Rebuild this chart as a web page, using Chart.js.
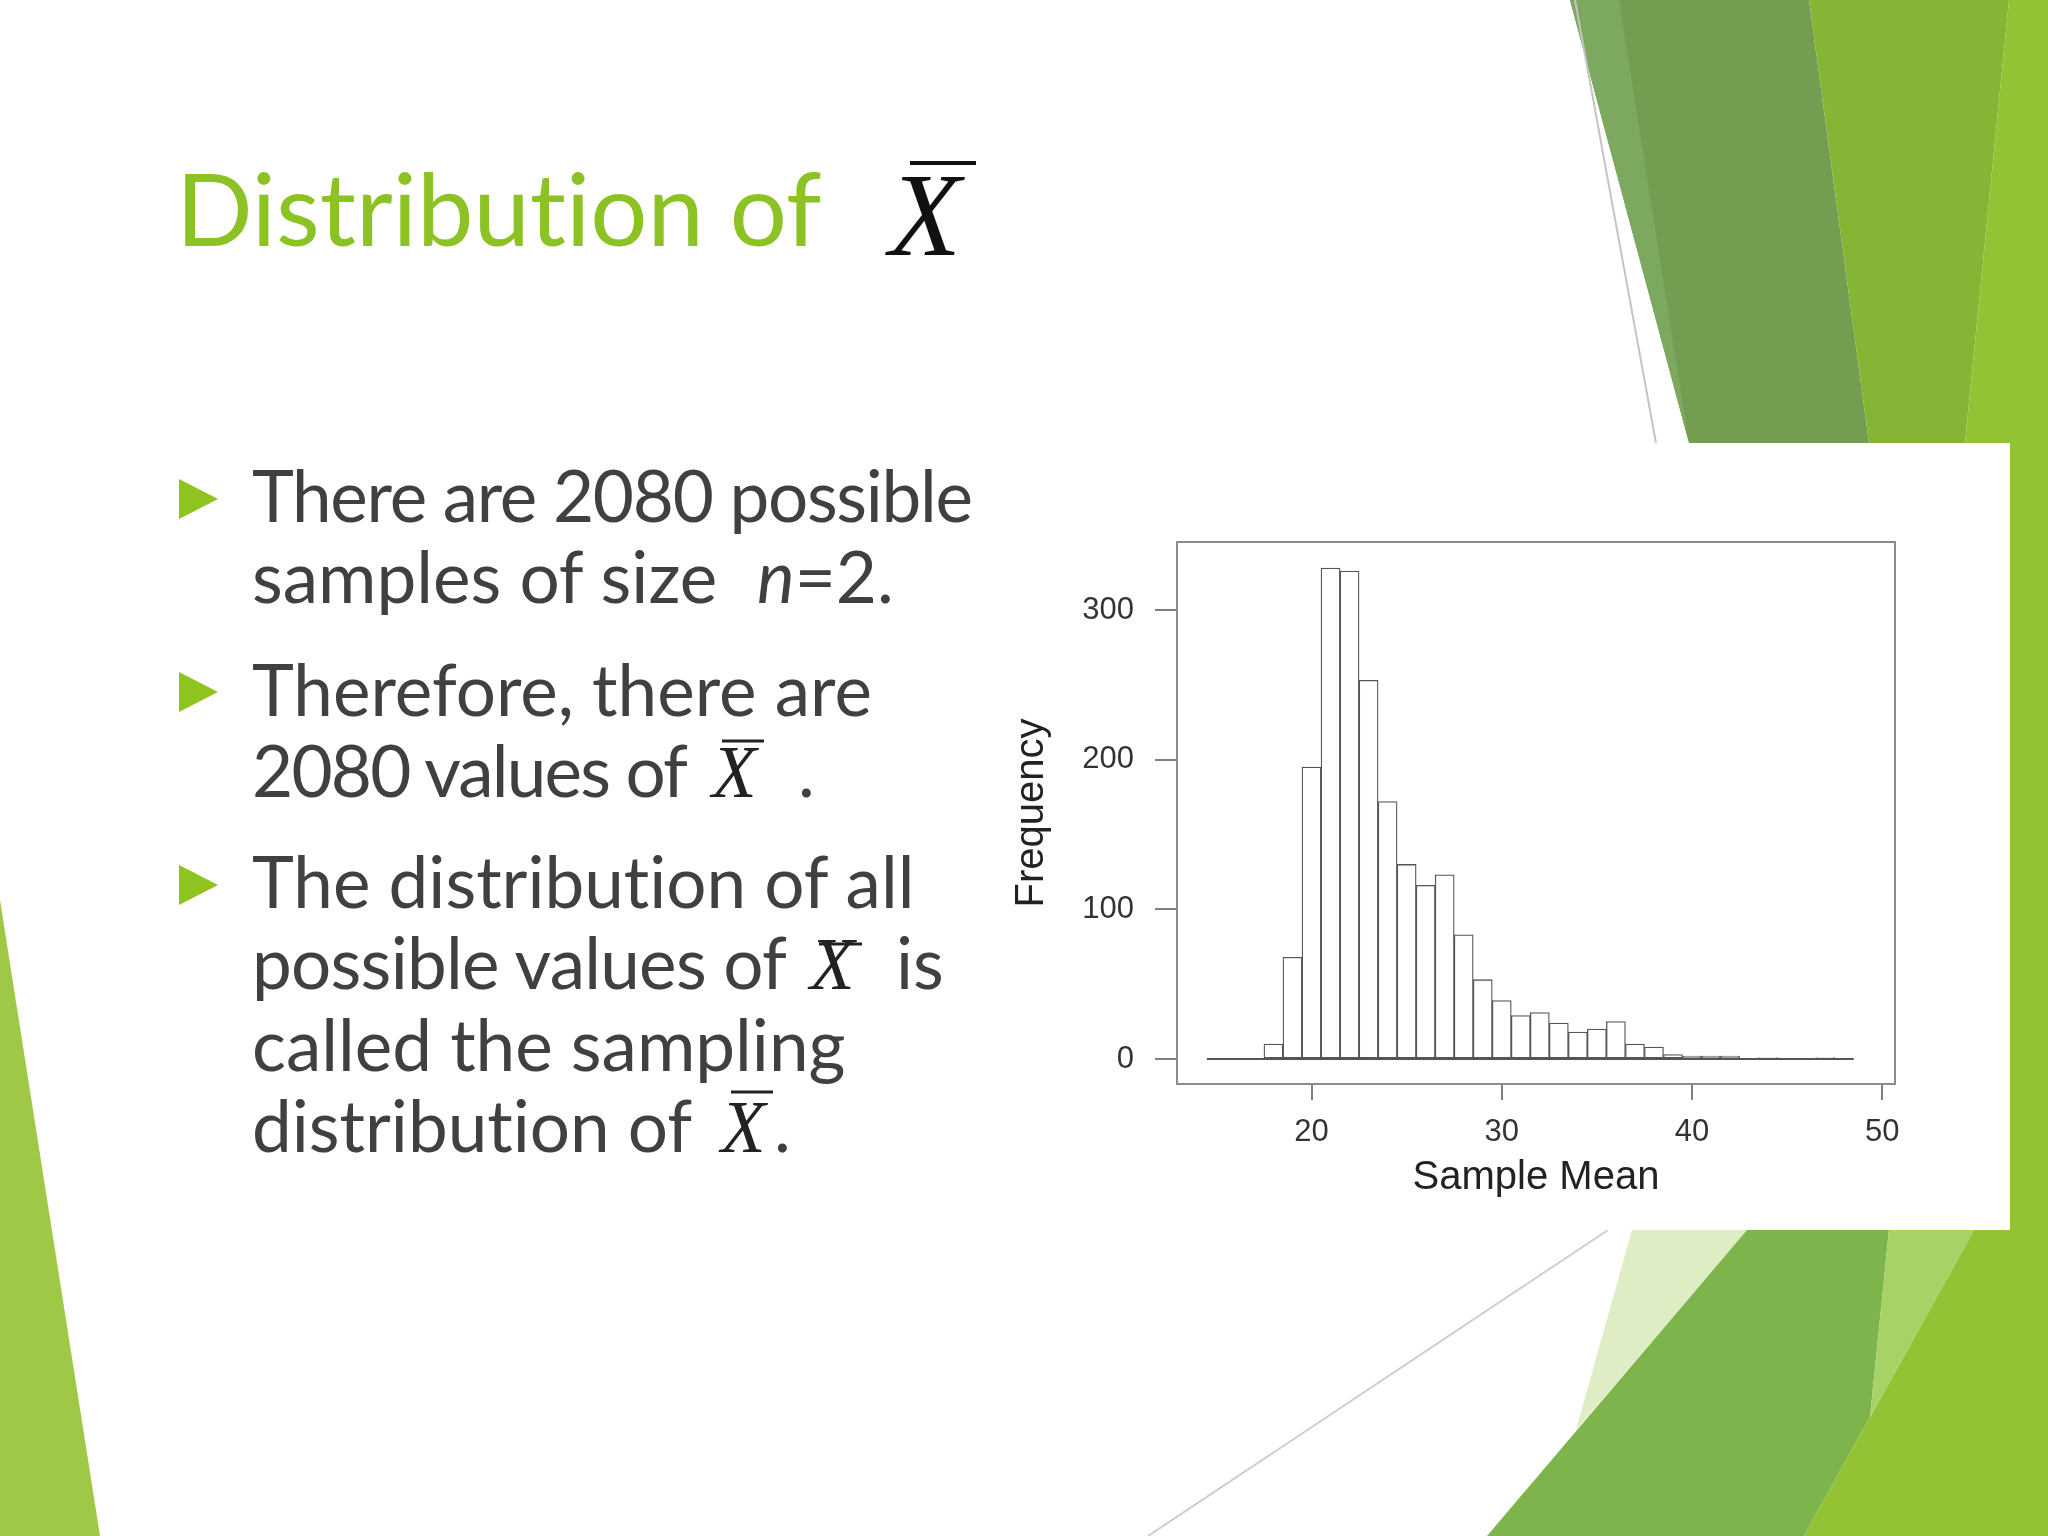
<!DOCTYPE html>
<html>
<head>
<meta charset="utf-8">
<script src="https://cdn.jsdelivr.net/npm/chart.js@4.4.1/dist/chart.umd.min.js"></script>
<style>
  html, body { margin: 0; padding: 0; background: #fff; }
  #slide { position: relative; width: 2048px; height: 1536px; overflow: hidden; background: #fff; }
  #deco, #words { position: absolute; left: 0; top: 0; }
  #words { pointer-events: none; font-variant-ligatures: none; }
  #chartBox { position: absolute; left: 985px; top: 443px; width: 1025px; height: 787px; background: #fff; }
</style>
</head>
<body>
<div id="slide">
  <svg id="deco" width="2048" height="1536">
    <polygon points="1570,0 1809,0 1869,443 1689,443" fill="#739e51"/>
    <polygon points="1570,0 1619,0 1689,443" fill="#7da85f"/>
    <polygon points="1809,0 2009,0 1965,443 1869,443" fill="#86b535"/>
    <polygon points="2009,0 2048,0 2048,1536 1804,1536 1974,1230 2010,1230 2010,443 1965,443" fill="#93c334"/>
    <line x1="1575" y1="0" x2="1656" y2="443" stroke="#c4c4c4" stroke-width="2"/>
    <polygon points="1632,1230 1747,1230 1576,1430" fill="#deedc3"/>
    <polygon points="1747,1230 1889,1230 1870,1417 1804,1536 1487,1536" fill="#7db44c"/>
    <polygon points="1889,1230 1974,1230 1870,1417" fill="#a6d266"/>
    <line x1="1608" y1="1230" x2="1148" y2="1536" stroke="#cfcfcf" stroke-width="2"/>
    <polygon points="0,900 100,1536 0,1536" fill="#a0c847"/>
  </svg>

  <div id="chartBox"><canvas id="hist" width="1025" height="787"></canvas></div>

  <svg id="words" width="2048" height="1536">
    <text x="176" y="246" font-family="Lato" font-size="101" fill="#8cc224">Distribution of</text>
    <text x="889" y="255" font-family="Liberation Serif" font-style="italic" font-size="118" fill="#111">X</text>
    <line x1="910" y1="163" x2="976" y2="163" stroke="#111" stroke-width="4"/>

    <polygon points="179,479 218,499 179,519" fill="#8fc31f"/>
    <polygon points="179,672 218,692 179,712" fill="#8fc31f"/>
    <polygon points="179,865 218,885 179,905" fill="#8fc31f"/>

    <g font-family="Lato" font-size="71" fill="#404040">
      <text x="252" y="522" textLength="721" lengthAdjust="spacing">There are 2080 possible</text>
      <text x="252" y="603">samples of size <tspan x="757" font-style="italic">n</tspan>=2.</text>
      <text x="252" y="716">Therefore, there are</text>
      <text x="252" y="797" textLength="436" lengthAdjust="spacing">2080 values of</text>
      <text x="798" y="797">.</text>
      <text x="252" y="908">The distribution of all</text>
      <text x="252" y="989" textLength="535" lengthAdjust="spacing">possible values of</text>
      <text x="896" y="989">is</text>
      <text x="252" y="1071">called the sampling</text>
      <text x="252" y="1152">distribution of<tspan x="774">.</tspan></text>
    </g>
    <g font-family="Liberation Serif" font-style="italic" font-size="73" fill="#222">
      <text x="712" y="797">X</text>
      <text x="810" y="989">X</text>
      <text x="721" y="1152">X</text>
    </g>
    <g stroke="#222" stroke-width="3">
      <line x1="722" y1="741" x2="764" y2="741"/>
      <line x1="819" y1="944" x2="862" y2="944"/>
      <line x1="731" y1="1092" x2="773" y2="1092"/>
    </g>
  </svg>
</div>

<script>
// histogram of the 2080 sample means, bins of width 1 from 14.5 to 48.5
const binCenters = [15, 16, 17, 18, 19, 20, 21, 22, 23, 24, 25, 26, 27, 28, 29, 30, 31,
                    32, 33, 34, 35, 36, 37, 38, 39, 40, 41, 42, 43, 44, 45, 46, 47, 48];
const counts = [0, 0, 0, 10, 68, 195, 328, 326, 253, 172, 130, 116, 123, 83, 53, 39, 29,
                31, 24, 18, 20, 25, 10, 8, 3, 2, 2, 2, 0, 1, 0, 0, 1, 0];
const binRange = [14.5, 48.5];
const xTickValues = [20, 30, 40, 50];
const yTickValues = [0, 100, 200, 300];

const frameBox = {
  id: "frameBox",
  afterDraw(chart) {
    const { ctx, chartArea: a } = chart;
    ctx.save();
    ctx.strokeStyle = "#8c8c8c";
    ctx.lineWidth = 2;
    ctx.strokeRect(a.left, a.top, a.right - a.left, a.bottom - a.top);
    ctx.restore();
  },
};

const axisFont = { family: "'Liberation Sans', Arial, sans-serif", size: 31 };
const titleFont = { family: "'Liberation Sans', Arial, sans-serif", size: 40 };

const ctx = document.getElementById("hist").getContext("2d");
new Chart(ctx, {
  type: "bar",
  data: {
    datasets: [
      {
        type: "line",
        data: binRange.map((v) => ({ x: v, y: 0 })),
        borderColor: "#555",
        borderWidth: 2,
        pointRadius: 0,
        order: 0,
      },
      {
        data: binCenters.map((c, i) => ({ x: c, y: counts[i] })),
        backgroundColor: "#fff",
        borderColor: "#555",
        borderWidth: 1.3,
        borderSkipped: false,
        barPercentage: 1,
        categoryPercentage: 1,
        order: 1,
      },
    ],
  },
  options: {
    responsive: false,
    animation: false,
    devicePixelRatio: 1,
    layout: { padding: { left: 0, top: 99, right: 115, bottom: 0 } },
    plugins: { legend: { display: false }, tooltip: { enabled: false } },
    scales: {
      x: {
        type: "linear",
        min: 12.93,
        max: 50.67,
        offset: false,
        afterBuildTicks: (s) => { s.ticks = xTickValues.map((v) => ({ value: v })); },
        afterFit: (s) => { s.height = 146; },
        grid: { offset: false, drawOnChartArea: false, drawTicks: true, tickLength: 16, color: "#808080", lineWidth: 2 },
        border: { display: false },
        ticks: { color: "#333", font: axisFont, padding: 14, maxRotation: 0, autoSkip: false },
        title: { display: true, text: "Sample Mean", color: "#222", font: titleFont, padding: { top: 0, bottom: 28 } },
      },
      y: {
        min: -16.7,
        max: 345.4,
        afterBuildTicks: (s) => { s.ticks = yTickValues.map((v) => ({ value: v })); },
        afterFit: (s) => { s.width = 192; },
        grid: { drawOnChartArea: false, drawTicks: true, tickLength: 22, color: "#808080", lineWidth: 2 },
        border: { display: false },
        ticks: { color: "#333", font: axisFont, padding: 21, autoSkip: false },
        title: { display: true, text: "Frequency", color: "#222", font: titleFont, padding: { top: 23, bottom: 0 } },
      },
    },
  },
  plugins: [frameBox],
});
</script>
</body>
</html>
